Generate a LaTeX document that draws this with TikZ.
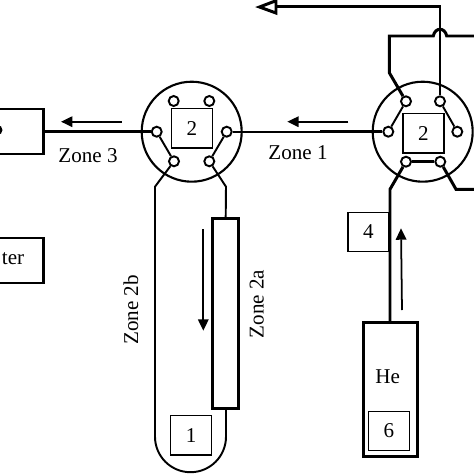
\documentclass[tikz,border=0pt]{standalone}
\usepackage{fontspec}
\setmainfont{Liberation Serif}
\usepackage{xcolor}
\usetikzlibrary{arrows.meta,positioning,calc}
\tikzset{
  valve/.style={circle,draw,line width=1.2pt,minimum size=2cm,inner sep=0pt},
  port/.style={circle,draw,fill=white,line width=1.1pt,minimum size=0.2cm,inner sep=0pt},
  numbox/.style={rectangle,draw,line width=0.8pt,minimum width=0.82cm,minimum height=0.79cm,inner sep=0pt},
  outbox/.style={rectangle,draw,line width=1.3pt,minimum width=1.3cm,inner sep=0pt},
  tube/.style={line width=1.1pt},
  thicktube/.style={line width=1.7pt},
  flow/.style={line width=1pt,-{Triangle[length=6.5pt,width=6pt]}},
}
\begin{document}
\begin{tikzpicture}[x=0.02cm,y=-0.02cm,font=\fontsize{12}{14}\selectfont]
\useasboundingbox (0,0) rectangle (474,474);
\clip (0,0) rectangle (474,474);
% boxes on the left, cut by the page edge
\node[outbox,minimum height=0.9cm] (detector) at (11,131.8) {};
\fill (-2.5,130) circle (5);
\node[outbox,minimum height=0.89cm] (heater) at (11,260.5) {};
\node[anchor=east,inner sep=0pt] (heaterlab) at (24.5,259) {ter};
% left valve
\node[valve] (lv) at (191.7,131.7) {};
\node[numbox] (lvbox) at (192,128.4) {2};
\node[port] (l1) at (173.7,101) {};
\node[port] (l2) at (209.3,101) {};
\node[port] (l3) at (156.7,131.7) {};
\node[port] (l4) at (226.7,131.7) {};
\node[port] (l5) at (174,161.3) {};
\node[port] (l6) at (209.3,161.3) {};
% right valve
\node[valve] (rv) at (422.7,131.7) {};
\node[numbox] (rvbox) at (423.3,133.2) {2};
\node[port] (r1) at (406,101.3) {};
\node[port] (r2) at (440,101.3) {};
\node[port] (r3) at (388.3,131.7) {};
\node[port] (r4) at (457.3,131.7) {};
\node[port] (r5) at (406,161.7) {};
\node[port] (r6) at (440.3,161.7) {};
% column and carrier gas
\node[rectangle,draw,thicktube,minimum width=0.52cm,minimum height=3.8cm,inner sep=0pt] (column) at (225.7,313.3) {};
\node[numbox] (oven) at (191.2,435.3) {1};
\node[rectangle,draw,line width=2pt,minimum width=1.08cm,minimum height=2.68cm,inner sep=0pt] (he) at (390.3,389.7) {};
\node (helab) at (387.7,376.7) {He};
\node[numbox] (cyl) at (388.8,431) {6};
\node[numbox] (regul) at (368.5,232) {4};
% connections inside the valves
\draw[tube] (l3) -- (l5);
\draw[tube] (l4) -- (l6);
\draw[tube] (r1) -- (r3);
\draw[tube] (r2) -- (r4);
\draw[thicktube] (r5) -- (r6);
% lines between valves and boxes
\draw[thicktube] ($(detector.east |- l3)$) -- (l3);
\draw[tube] (l4) -- (320,131.7);
\draw[thicktube] (320,131.7) -- (r3);
% zone 2 loop
\draw[tube] (l5) -- (155,186.7) -- (155,436.7) arc (180:360:35.5 and -35.5) -- (column.south -| 226,408);
\draw[tube] (l6) -- (226,186.7) -- (column.north);
% gas lines at the right
\draw[thicktube] (he.north -| 390,322) -- (390,189.3) -- (r5);
\draw[thicktube] (r6) -- (456,189.3) -- (474,189.3);
\draw[thicktube] (r1) -- (389.3,72.7) -- (389.3,36) -- (433.3,36) .. controls (435,27) and (445,27) .. (446.7,36) -- (474,36);
\draw[thicktube] (r2) -- (440,6.7) -- (276,6.7);
\draw[thicktube,fill=white] (276,0.7) -- (259.5,7) -- (276,13) -- cycle;
% flow arrows
\draw[flow] (121.7,121.7) -- (61,121.7);
\draw[flow] (348.3,121.7) -- (287.3,121.7);
\draw[flow] (203.3,229.3) -- (203.3,330.7);
\draw[flow] (402,310) -- (401,228.3);
% zone labels
\node (zone3) at (88,156) {Zone 3};
\node (zone1) at (298,153) {Zone 1};
\node[rotate=90] (zone2b) at (131,310) {Zone 2b};
\node[rotate=90] (zone2a) at (256.7,304) {Zone 2a};
\end{tikzpicture}
\end{document}
